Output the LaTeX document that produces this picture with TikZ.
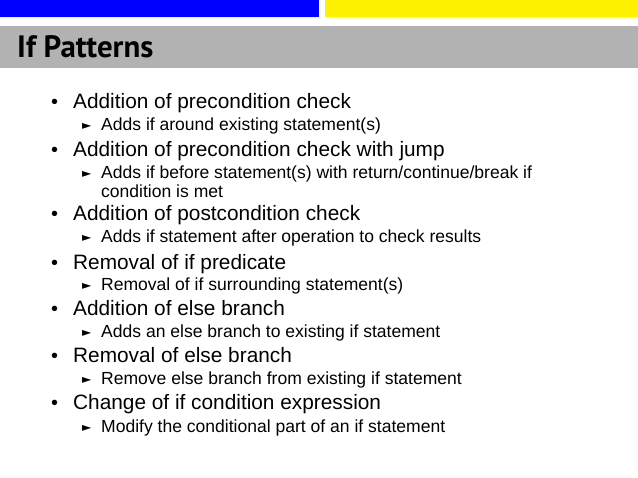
\documentclass[tikz,border=0pt]{standalone}
\usepackage{fontspec}
\setmainfont{Liberation Sans}
\newfontfamily\titlefont{PT Sans}
\newfontfamily\symfont{DejaVu Sans}
\begin{document}
\begin{tikzpicture}[x=1bp,y=-1bp,
  lone/.style={anchor=base west,inner sep=0,font=\fontsize{20.9}{22}\selectfont},
  ltwo/.style={anchor=base west,inner sep=0,font=\fontsize{17.6}{18}\selectfont},
  bul/.style={anchor=base west,inner sep=0,font=\fontsize{20}{20}\selectfont},
  tri/.style={anchor=base west,inner sep=0,font=\symfont\fontsize{12}{12}\selectfont}]
\useasboundingbox (0,0) rectangle (638,478);
\fill[white] (0,0) rectangle (638,478);
\fill[blue] (0,0) rectangle (319,17);
\fill[yellow] (325,0) rectangle (638,17);
\fill[black!30] (0,26) rectangle (638,68);
\node[anchor=base west,inner sep=0,font=\titlefont\bfseries\fontsize{31}{31}\selectfont] (title) at (17,58) {If Patterns};
\foreach \y/\t [count=\i] in {109/Addition of precondition check,157/Addition of precondition check with jump,221/Addition of postcondition check,269/Removal of if predicate,315/Addition of else branch,362/Removal of else branch,409/Change of if condition expression}{
  \node[bul] (b\i) at (51,\y) {•};
  \node[lone] (l\i) at (73,\y) {\t};
}
\foreach \y/\t [count=\i] in {131/{Adds if around existing statement(s)},179/{Adds if before statement(s) with return/continue/break if},243/{Adds if statement after operation to check results},290/{Removal of if surrounding statement(s)},337/{Adds an else branch to existing if statement},384/{Remove else branch from existing if statement},432/{Modify the conditional part of an if statement}}{
  \node[tri] (t\i) at (82,\y-1) {►};
  \node[ltwo] (s\i) at (101,\y) {\t};
}
\node[ltwo] (s2b) at (101,198) {condition is met};
\end{tikzpicture}
\end{document}
